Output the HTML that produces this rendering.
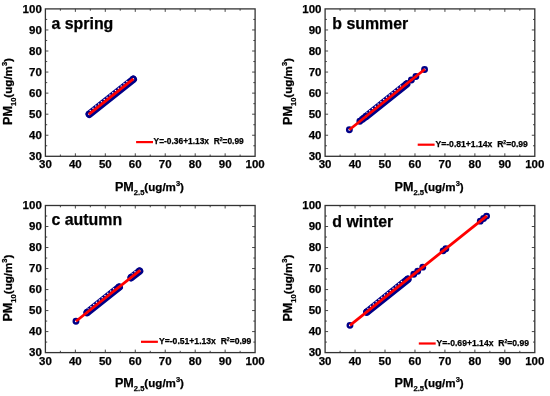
<!DOCTYPE html>
<html><head><meta charset="utf-8"><title>PM10 vs PM2.5</title>
<style>
html,body{margin:0;padding:0;background:#fff;}
svg{display:block;}
text{font-family:"Liberation Sans",Arial,sans-serif;font-weight:bold;fill:#000;stroke:#000;stroke-width:0.25px;}
</style></head><body>
<svg width="550" height="396" viewBox="0 0 550 396">
<rect width="550" height="396" fill="#fff"/>
<g>
<line x1="89.26" y1="114.26" x2="133.3" y2="79.28" stroke="#000088" stroke-width="7.4" stroke-linecap="round"/>
<g fill="#fff"><circle cx="90.18" cy="110.6" r="0.75"/><circle cx="93" cy="108.36" r="0.75"/><circle cx="95.82" cy="106.12" r="0.75"/><circle cx="98.64" cy="103.88" r="0.75"/><circle cx="101.46" cy="101.64" r="0.75"/><circle cx="104.28" cy="99.4" r="0.75"/><circle cx="107.09" cy="97.16" r="0.75"/><circle cx="109.91" cy="94.92" r="0.75"/><circle cx="112.73" cy="92.68" r="0.75"/><circle cx="115.55" cy="90.44" r="0.75"/><circle cx="118.37" cy="88.2" r="0.75"/><circle cx="121.19" cy="85.97" r="0.75"/><circle cx="124.01" cy="83.73" r="0.75"/><circle cx="126.83" cy="81.49" r="0.75"/></g>
<g fill="#fff" stroke="#000088" stroke-width="2.4">
<circle cx="89.14" cy="114.11" r="2.25"/>
<circle cx="133.17" cy="79.13" r="2.25"/>
</g>
<line x1="88.84" y1="114.34" x2="133.47" y2="78.89" stroke="#ff0000" stroke-width="2.8"/>
<rect x="45.4" y="8.9" width="209.7" height="147.4" fill="none" stroke="#333" stroke-width="1.3"/>
<path d="M60.38 156.3v-1.8M60.38 8.9v1.8M45.4 145.77h1.8M255.1 145.77h-1.8M75.36 156.3v-3.0M75.36 8.9v3.0M45.4 135.24h3.0M255.1 135.24h-3.0M90.34 156.3v-1.8M90.34 8.9v1.8M45.4 124.71h1.8M255.1 124.71h-1.8M105.31 156.3v-3.0M105.31 8.9v3.0M45.4 114.19h3.0M255.1 114.19h-3.0M120.29 156.3v-1.8M120.29 8.9v1.8M45.4 103.66h1.8M255.1 103.66h-1.8M135.27 156.3v-3.0M135.27 8.9v3.0M45.4 93.13h3.0M255.1 93.13h-3.0M150.25 156.3v-1.8M150.25 8.9v1.8M45.4 82.6h1.8M255.1 82.6h-1.8M165.23 156.3v-3.0M165.23 8.9v3.0M45.4 72.07h3.0M255.1 72.07h-3.0M180.21 156.3v-1.8M180.21 8.9v1.8M45.4 61.54h1.8M255.1 61.54h-1.8M195.19 156.3v-3.0M195.19 8.9v3.0M45.4 51.01h3.0M255.1 51.01h-3.0M210.16 156.3v-1.8M210.16 8.9v1.8M45.4 40.49h1.8M255.1 40.49h-1.8M225.14 156.3v-3.0M225.14 8.9v3.0M45.4 29.96h3.0M255.1 29.96h-3.0M240.12 156.3v-1.8M240.12 8.9v1.8M45.4 19.43h1.8M255.1 19.43h-1.8" stroke="#333" stroke-width="0.9" fill="none"/>
<text x="45.4" y="168.4" font-size="11.5" text-anchor="middle">30</text>
<text x="41.8" y="160" font-size="11.5" text-anchor="end">30</text>
<text x="75.36" y="168.4" font-size="11.5" text-anchor="middle">40</text>
<text x="41.8" y="138.94" font-size="11.5" text-anchor="end">40</text>
<text x="105.31" y="168.4" font-size="11.5" text-anchor="middle">50</text>
<text x="41.8" y="117.89" font-size="11.5" text-anchor="end">50</text>
<text x="135.27" y="168.4" font-size="11.5" text-anchor="middle">60</text>
<text x="41.8" y="96.83" font-size="11.5" text-anchor="end">60</text>
<text x="165.23" y="168.4" font-size="11.5" text-anchor="middle">70</text>
<text x="41.8" y="75.77" font-size="11.5" text-anchor="end">70</text>
<text x="195.19" y="168.4" font-size="11.5" text-anchor="middle">80</text>
<text x="41.8" y="54.71" font-size="11.5" text-anchor="end">80</text>
<text x="225.14" y="168.4" font-size="11.5" text-anchor="middle">90</text>
<text x="41.8" y="33.66" font-size="11.5" text-anchor="end">90</text>
<text x="255.1" y="168.4" font-size="11.5" text-anchor="middle">100</text>
<text x="41.8" y="12.6" font-size="11.5" text-anchor="end">100</text>
<text x="51.5" y="28.9" font-size="15.9">a spring</text>
<text x="149.45" y="190.7" font-size="12.6" text-anchor="middle">PM<tspan font-size="7.6" dy="3.9">2.5</tspan><tspan font-size="11.6" dy="-3.9">(ug/m</tspan><tspan font-size="7.5" dy="-4.8">3</tspan><tspan font-size="11.6" dy="4.8">)</tspan></text>
<text transform="translate(11.9 91.5) rotate(-90)" x="0" y="0" font-size="12.6" text-anchor="middle">PM<tspan font-size="7.6" dy="3.9">10</tspan><tspan font-size="11.6" dy="-3.9">(ug/m</tspan><tspan font-size="7.5" dy="-4.8">3</tspan><tspan font-size="11.6" dy="4.8">)</tspan></text>
<line x1="136.1" y1="142.1" x2="153" y2="142.1" stroke="#ff0000" stroke-width="2.2"/>
<text x="153.6" y="144.4" font-size="8.4">Y=-0.36+1.13x&#160; R<tspan font-size="5" dy="-3.2">2</tspan><tspan dy="3.2">=0.99</tspan></text>
<line x1="365.97" y1="116.67" x2="406.71" y2="84.02" stroke="#000088" stroke-width="7.4" stroke-linecap="round"/>
<g fill="#fff"><circle cx="366.87" cy="113" r="0.75"/><circle cx="369.68" cy="110.75" r="0.75"/><circle cx="372.49" cy="108.5" r="0.75"/><circle cx="375.3" cy="106.25" r="0.75"/><circle cx="378.11" cy="104" r="0.75"/><circle cx="380.92" cy="101.74" r="0.75"/><circle cx="383.73" cy="99.49" r="0.75"/><circle cx="386.53" cy="97.24" r="0.75"/><circle cx="389.34" cy="94.99" r="0.75"/><circle cx="392.15" cy="92.74" r="0.75"/><circle cx="394.96" cy="90.49" r="0.75"/><circle cx="397.77" cy="88.24" r="0.75"/><circle cx="400.58" cy="85.99" r="0.75"/></g>
<g fill="#fff" stroke="#000088" stroke-width="2.4">
<circle cx="349.37" cy="129.72" r="2.25"/>
<circle cx="359.85" cy="121.32" r="2.25"/>
<circle cx="362.25" cy="119.4" r="2.25"/>
<circle cx="363.74" cy="118.19" r="2.25"/>
<circle cx="411.38" cy="80.03" r="2.25"/>
<circle cx="415.87" cy="76.43" r="2.25"/>
<circle cx="424.56" cy="69.46" r="2.25"/>
<circle cx="365.84" cy="116.51" r="2.25"/>
<circle cx="406.58" cy="83.87" r="2.25"/>
</g>
<line x1="349.37" y1="129.72" x2="424.86" y2="69.22" stroke="#ff0000" stroke-width="2.8"/>
<rect x="325.1" y="8.9" width="209.7" height="147.4" fill="none" stroke="#333" stroke-width="1.3"/>
<path d="M340.08 156.3v-1.8M340.08 8.9v1.8M325.1 145.77h1.8M534.8 145.77h-1.8M355.06 156.3v-3.0M355.06 8.9v3.0M325.1 135.24h3.0M534.8 135.24h-3.0M370.04 156.3v-1.8M370.04 8.9v1.8M325.1 124.71h1.8M534.8 124.71h-1.8M385.01 156.3v-3.0M385.01 8.9v3.0M325.1 114.19h3.0M534.8 114.19h-3.0M399.99 156.3v-1.8M399.99 8.9v1.8M325.1 103.66h1.8M534.8 103.66h-1.8M414.97 156.3v-3.0M414.97 8.9v3.0M325.1 93.13h3.0M534.8 93.13h-3.0M429.95 156.3v-1.8M429.95 8.9v1.8M325.1 82.6h1.8M534.8 82.6h-1.8M444.93 156.3v-3.0M444.93 8.9v3.0M325.1 72.07h3.0M534.8 72.07h-3.0M459.91 156.3v-1.8M459.91 8.9v1.8M325.1 61.54h1.8M534.8 61.54h-1.8M474.89 156.3v-3.0M474.89 8.9v3.0M325.1 51.01h3.0M534.8 51.01h-3.0M489.86 156.3v-1.8M489.86 8.9v1.8M325.1 40.49h1.8M534.8 40.49h-1.8M504.84 156.3v-3.0M504.84 8.9v3.0M325.1 29.96h3.0M534.8 29.96h-3.0M519.82 156.3v-1.8M519.82 8.9v1.8M325.1 19.43h1.8M534.8 19.43h-1.8" stroke="#333" stroke-width="0.9" fill="none"/>
<text x="325.1" y="168.4" font-size="11.5" text-anchor="middle">30</text>
<text x="321.5" y="160" font-size="11.5" text-anchor="end">30</text>
<text x="355.06" y="168.4" font-size="11.5" text-anchor="middle">40</text>
<text x="321.5" y="138.94" font-size="11.5" text-anchor="end">40</text>
<text x="385.01" y="168.4" font-size="11.5" text-anchor="middle">50</text>
<text x="321.5" y="117.89" font-size="11.5" text-anchor="end">50</text>
<text x="414.97" y="168.4" font-size="11.5" text-anchor="middle">60</text>
<text x="321.5" y="96.83" font-size="11.5" text-anchor="end">60</text>
<text x="444.93" y="168.4" font-size="11.5" text-anchor="middle">70</text>
<text x="321.5" y="75.77" font-size="11.5" text-anchor="end">70</text>
<text x="474.89" y="168.4" font-size="11.5" text-anchor="middle">80</text>
<text x="321.5" y="54.71" font-size="11.5" text-anchor="end">80</text>
<text x="504.84" y="168.4" font-size="11.5" text-anchor="middle">90</text>
<text x="321.5" y="33.66" font-size="11.5" text-anchor="end">90</text>
<text x="534.8" y="168.4" font-size="11.5" text-anchor="middle">100</text>
<text x="321.5" y="12.6" font-size="11.5" text-anchor="end">100</text>
<text x="332.3" y="29.2" font-size="15.9">b summer</text>
<text x="429.15" y="190.7" font-size="12.6" text-anchor="middle">PM<tspan font-size="7.6" dy="3.9">2.5</tspan><tspan font-size="11.6" dy="-3.9">(ug/m</tspan><tspan font-size="7.5" dy="-4.8">3</tspan><tspan font-size="11.6" dy="4.8">)</tspan></text>
<text transform="translate(291.6 91.5) rotate(-90)" x="0" y="0" font-size="12.6" text-anchor="middle">PM<tspan font-size="7.6" dy="3.9">10</tspan><tspan font-size="11.6" dy="-3.9">(ug/m</tspan><tspan font-size="7.5" dy="-4.8">3</tspan><tspan font-size="11.6" dy="4.8">)</tspan></text>
<line x1="417.7" y1="144.7" x2="434.6" y2="144.7" stroke="#ff0000" stroke-width="2.2"/>
<text x="435.5" y="146.9" font-size="8.6">Y=-0.81+1.14x&#160; R<tspan font-size="5" dy="-3.2">2</tspan><tspan dy="3.2">=0.99</tspan></text>
<line x1="87.16" y1="312.63" x2="119.22" y2="287.22" stroke="#000088" stroke-width="7.4" stroke-linecap="round"/>
<line x1="131.2" y1="277.72" x2="139.59" y2="271.07" stroke="#000088" stroke-width="7.4" stroke-linecap="round"/>
<g fill="#fff"><circle cx="88.09" cy="308.96" r="0.75"/><circle cx="90.91" cy="306.72" r="0.75"/><circle cx="93.73" cy="304.49" r="0.75"/><circle cx="96.55" cy="302.25" r="0.75"/><circle cx="99.37" cy="300.01" r="0.75"/><circle cx="102.19" cy="297.78" r="0.75"/><circle cx="105.01" cy="295.54" r="0.75"/><circle cx="107.84" cy="293.31" r="0.75"/><circle cx="110.66" cy="291.07" r="0.75"/><circle cx="113.48" cy="288.83" r="0.75"/><circle cx="132.12" cy="274.05" r="0.75"/><circle cx="134.95" cy="271.82" r="0.75"/></g>
<g fill="#fff" stroke="#000088" stroke-width="2.4">
<circle cx="75.96" cy="321.26" r="2.25"/>
<circle cx="87.04" cy="312.47" r="2.25"/>
<circle cx="119.09" cy="287.06" r="2.25"/>
<circle cx="131.08" cy="277.56" r="2.25"/>
<circle cx="139.47" cy="270.91" r="2.25"/>
</g>
<line x1="75.96" y1="321.26" x2="140.06" y2="270.44" stroke="#ff0000" stroke-width="2.8"/>
<rect x="45.4" y="205.5" width="209.7" height="147.1" fill="none" stroke="#333" stroke-width="1.3"/>
<path d="M60.38 352.6v-1.8M60.38 205.5v1.8M45.4 342.09h1.8M255.1 342.09h-1.8M75.36 352.6v-3.0M75.36 205.5v3.0M45.4 331.59h3.0M255.1 331.59h-3.0M90.34 352.6v-1.8M90.34 205.5v1.8M45.4 321.08h1.8M255.1 321.08h-1.8M105.31 352.6v-3.0M105.31 205.5v3.0M45.4 310.57h3.0M255.1 310.57h-3.0M120.29 352.6v-1.8M120.29 205.5v1.8M45.4 300.06h1.8M255.1 300.06h-1.8M135.27 352.6v-3.0M135.27 205.5v3.0M45.4 289.56h3.0M255.1 289.56h-3.0M150.25 352.6v-1.8M150.25 205.5v1.8M45.4 279.05h1.8M255.1 279.05h-1.8M165.23 352.6v-3.0M165.23 205.5v3.0M45.4 268.54h3.0M255.1 268.54h-3.0M180.21 352.6v-1.8M180.21 205.5v1.8M45.4 258.04h1.8M255.1 258.04h-1.8M195.19 352.6v-3.0M195.19 205.5v3.0M45.4 247.53h3.0M255.1 247.53h-3.0M210.16 352.6v-1.8M210.16 205.5v1.8M45.4 237.02h1.8M255.1 237.02h-1.8M225.14 352.6v-3.0M225.14 205.5v3.0M45.4 226.51h3.0M255.1 226.51h-3.0M240.12 352.6v-1.8M240.12 205.5v1.8M45.4 216.01h1.8M255.1 216.01h-1.8" stroke="#333" stroke-width="0.9" fill="none"/>
<text x="45.4" y="364.7" font-size="11.5" text-anchor="middle">30</text>
<text x="41.8" y="356.3" font-size="11.5" text-anchor="end">30</text>
<text x="75.36" y="364.7" font-size="11.5" text-anchor="middle">40</text>
<text x="41.8" y="335.29" font-size="11.5" text-anchor="end">40</text>
<text x="105.31" y="364.7" font-size="11.5" text-anchor="middle">50</text>
<text x="41.8" y="314.27" font-size="11.5" text-anchor="end">50</text>
<text x="135.27" y="364.7" font-size="11.5" text-anchor="middle">60</text>
<text x="41.8" y="293.26" font-size="11.5" text-anchor="end">60</text>
<text x="165.23" y="364.7" font-size="11.5" text-anchor="middle">70</text>
<text x="41.8" y="272.24" font-size="11.5" text-anchor="end">70</text>
<text x="195.19" y="364.7" font-size="11.5" text-anchor="middle">80</text>
<text x="41.8" y="251.23" font-size="11.5" text-anchor="end">80</text>
<text x="225.14" y="364.7" font-size="11.5" text-anchor="middle">90</text>
<text x="41.8" y="230.21" font-size="11.5" text-anchor="end">90</text>
<text x="255.1" y="364.7" font-size="11.5" text-anchor="middle">100</text>
<text x="41.8" y="209.2" font-size="11.5" text-anchor="end">100</text>
<text x="51.5" y="225.3" font-size="15.9">c autumn</text>
<text x="149.45" y="387" font-size="12.6" text-anchor="middle">PM<tspan font-size="7.6" dy="3.9">2.5</tspan><tspan font-size="11.6" dy="-3.9">(ug/m</tspan><tspan font-size="7.5" dy="-4.8">3</tspan><tspan font-size="11.6" dy="4.8">)</tspan></text>
<text transform="translate(11.9 288.1) rotate(-90)" x="0" y="0" font-size="12.6" text-anchor="middle">PM<tspan font-size="7.6" dy="3.9">10</tspan><tspan font-size="11.6" dy="-3.9">(ug/m</tspan><tspan font-size="7.5" dy="-4.8">3</tspan><tspan font-size="11.6" dy="4.8">)</tspan></text>
<line x1="141" y1="341.8" x2="157.9" y2="341.8" stroke="#ff0000" stroke-width="2.2"/>
<text x="159" y="344.3" font-size="8.6">Y=-0.51+1.13x&#160; R<tspan font-size="5" dy="-3.2">2</tspan><tspan dy="3.2">=0.99</tspan></text>
<line x1="366.87" y1="312.08" x2="407.91" y2="279.26" stroke="#000088" stroke-width="7.4" stroke-linecap="round"/>
<g fill="#fff"><circle cx="367.77" cy="308.41" r="0.75"/><circle cx="370.58" cy="306.16" r="0.75"/><circle cx="373.39" cy="303.91" r="0.75"/><circle cx="376.21" cy="301.67" r="0.75"/><circle cx="379.02" cy="299.42" r="0.75"/><circle cx="381.83" cy="297.17" r="0.75"/><circle cx="384.64" cy="294.92" r="0.75"/><circle cx="387.45" cy="292.67" r="0.75"/><circle cx="390.26" cy="290.42" r="0.75"/><circle cx="393.08" cy="288.18" r="0.75"/><circle cx="395.89" cy="285.93" r="0.75"/><circle cx="398.7" cy="283.68" r="0.75"/><circle cx="401.51" cy="281.43" r="0.75"/></g>
<g fill="#fff" stroke="#000088" stroke-width="2.4">
<circle cx="349.96" cy="325.34" r="2.25"/>
<circle cx="413.77" cy="274.31" r="2.25"/>
<circle cx="417.67" cy="271.2" r="2.25"/>
<circle cx="422.76" cy="267.13" r="2.25"/>
<circle cx="443.13" cy="250.84" r="2.25"/>
<circle cx="445.83" cy="248.68" r="2.25"/>
<circle cx="480.28" cy="221.13" r="2.25"/>
<circle cx="483.57" cy="218.5" r="2.25"/>
<circle cx="486.57" cy="216.1" r="2.25"/>
<circle cx="366.74" cy="311.92" r="2.25"/>
<circle cx="407.78" cy="279.1" r="2.25"/>
</g>
<line x1="349.96" y1="325.34" x2="486.87" y2="215.86" stroke="#ff0000" stroke-width="2.8"/>
<rect x="325.1" y="205.5" width="209.7" height="147.1" fill="none" stroke="#333" stroke-width="1.3"/>
<path d="M340.08 352.6v-1.8M340.08 205.5v1.8M325.1 342.09h1.8M534.8 342.09h-1.8M355.06 352.6v-3.0M355.06 205.5v3.0M325.1 331.59h3.0M534.8 331.59h-3.0M370.04 352.6v-1.8M370.04 205.5v1.8M325.1 321.08h1.8M534.8 321.08h-1.8M385.01 352.6v-3.0M385.01 205.5v3.0M325.1 310.57h3.0M534.8 310.57h-3.0M399.99 352.6v-1.8M399.99 205.5v1.8M325.1 300.06h1.8M534.8 300.06h-1.8M414.97 352.6v-3.0M414.97 205.5v3.0M325.1 289.56h3.0M534.8 289.56h-3.0M429.95 352.6v-1.8M429.95 205.5v1.8M325.1 279.05h1.8M534.8 279.05h-1.8M444.93 352.6v-3.0M444.93 205.5v3.0M325.1 268.54h3.0M534.8 268.54h-3.0M459.91 352.6v-1.8M459.91 205.5v1.8M325.1 258.04h1.8M534.8 258.04h-1.8M474.89 352.6v-3.0M474.89 205.5v3.0M325.1 247.53h3.0M534.8 247.53h-3.0M489.86 352.6v-1.8M489.86 205.5v1.8M325.1 237.02h1.8M534.8 237.02h-1.8M504.84 352.6v-3.0M504.84 205.5v3.0M325.1 226.51h3.0M534.8 226.51h-3.0M519.82 352.6v-1.8M519.82 205.5v1.8M325.1 216.01h1.8M534.8 216.01h-1.8" stroke="#333" stroke-width="0.9" fill="none"/>
<text x="325.1" y="364.7" font-size="11.5" text-anchor="middle">30</text>
<text x="321.5" y="356.3" font-size="11.5" text-anchor="end">30</text>
<text x="355.06" y="364.7" font-size="11.5" text-anchor="middle">40</text>
<text x="321.5" y="335.29" font-size="11.5" text-anchor="end">40</text>
<text x="385.01" y="364.7" font-size="11.5" text-anchor="middle">50</text>
<text x="321.5" y="314.27" font-size="11.5" text-anchor="end">50</text>
<text x="414.97" y="364.7" font-size="11.5" text-anchor="middle">60</text>
<text x="321.5" y="293.26" font-size="11.5" text-anchor="end">60</text>
<text x="444.93" y="364.7" font-size="11.5" text-anchor="middle">70</text>
<text x="321.5" y="272.24" font-size="11.5" text-anchor="end">70</text>
<text x="474.89" y="364.7" font-size="11.5" text-anchor="middle">80</text>
<text x="321.5" y="251.23" font-size="11.5" text-anchor="end">80</text>
<text x="504.84" y="364.7" font-size="11.5" text-anchor="middle">90</text>
<text x="321.5" y="230.21" font-size="11.5" text-anchor="end">90</text>
<text x="534.8" y="364.7" font-size="11.5" text-anchor="middle">100</text>
<text x="321.5" y="209.2" font-size="11.5" text-anchor="end">100</text>
<text x="332.3" y="227.4" font-size="15.9">d winter</text>
<text x="429.15" y="387" font-size="12.6" text-anchor="middle">PM<tspan font-size="7.6" dy="3.9">2.5</tspan><tspan font-size="11.6" dy="-3.9">(ug/m</tspan><tspan font-size="7.5" dy="-4.8">3</tspan><tspan font-size="11.6" dy="4.8">)</tspan></text>
<text transform="translate(291.6 288.1) rotate(-90)" x="0" y="0" font-size="12.6" text-anchor="middle">PM<tspan font-size="7.6" dy="3.9">10</tspan><tspan font-size="11.6" dy="-3.9">(ug/m</tspan><tspan font-size="7.5" dy="-4.8">3</tspan><tspan font-size="11.6" dy="4.8">)</tspan></text>
<line x1="418.8" y1="343.5" x2="435.7" y2="343.5" stroke="#ff0000" stroke-width="2.2"/>
<text x="436.6" y="346" font-size="8.6">Y=-0.69+1.14x&#160; R<tspan font-size="5" dy="-3.2">2</tspan><tspan dy="3.2">=0.99</tspan></text>
</g>
</svg>
</body></html>
